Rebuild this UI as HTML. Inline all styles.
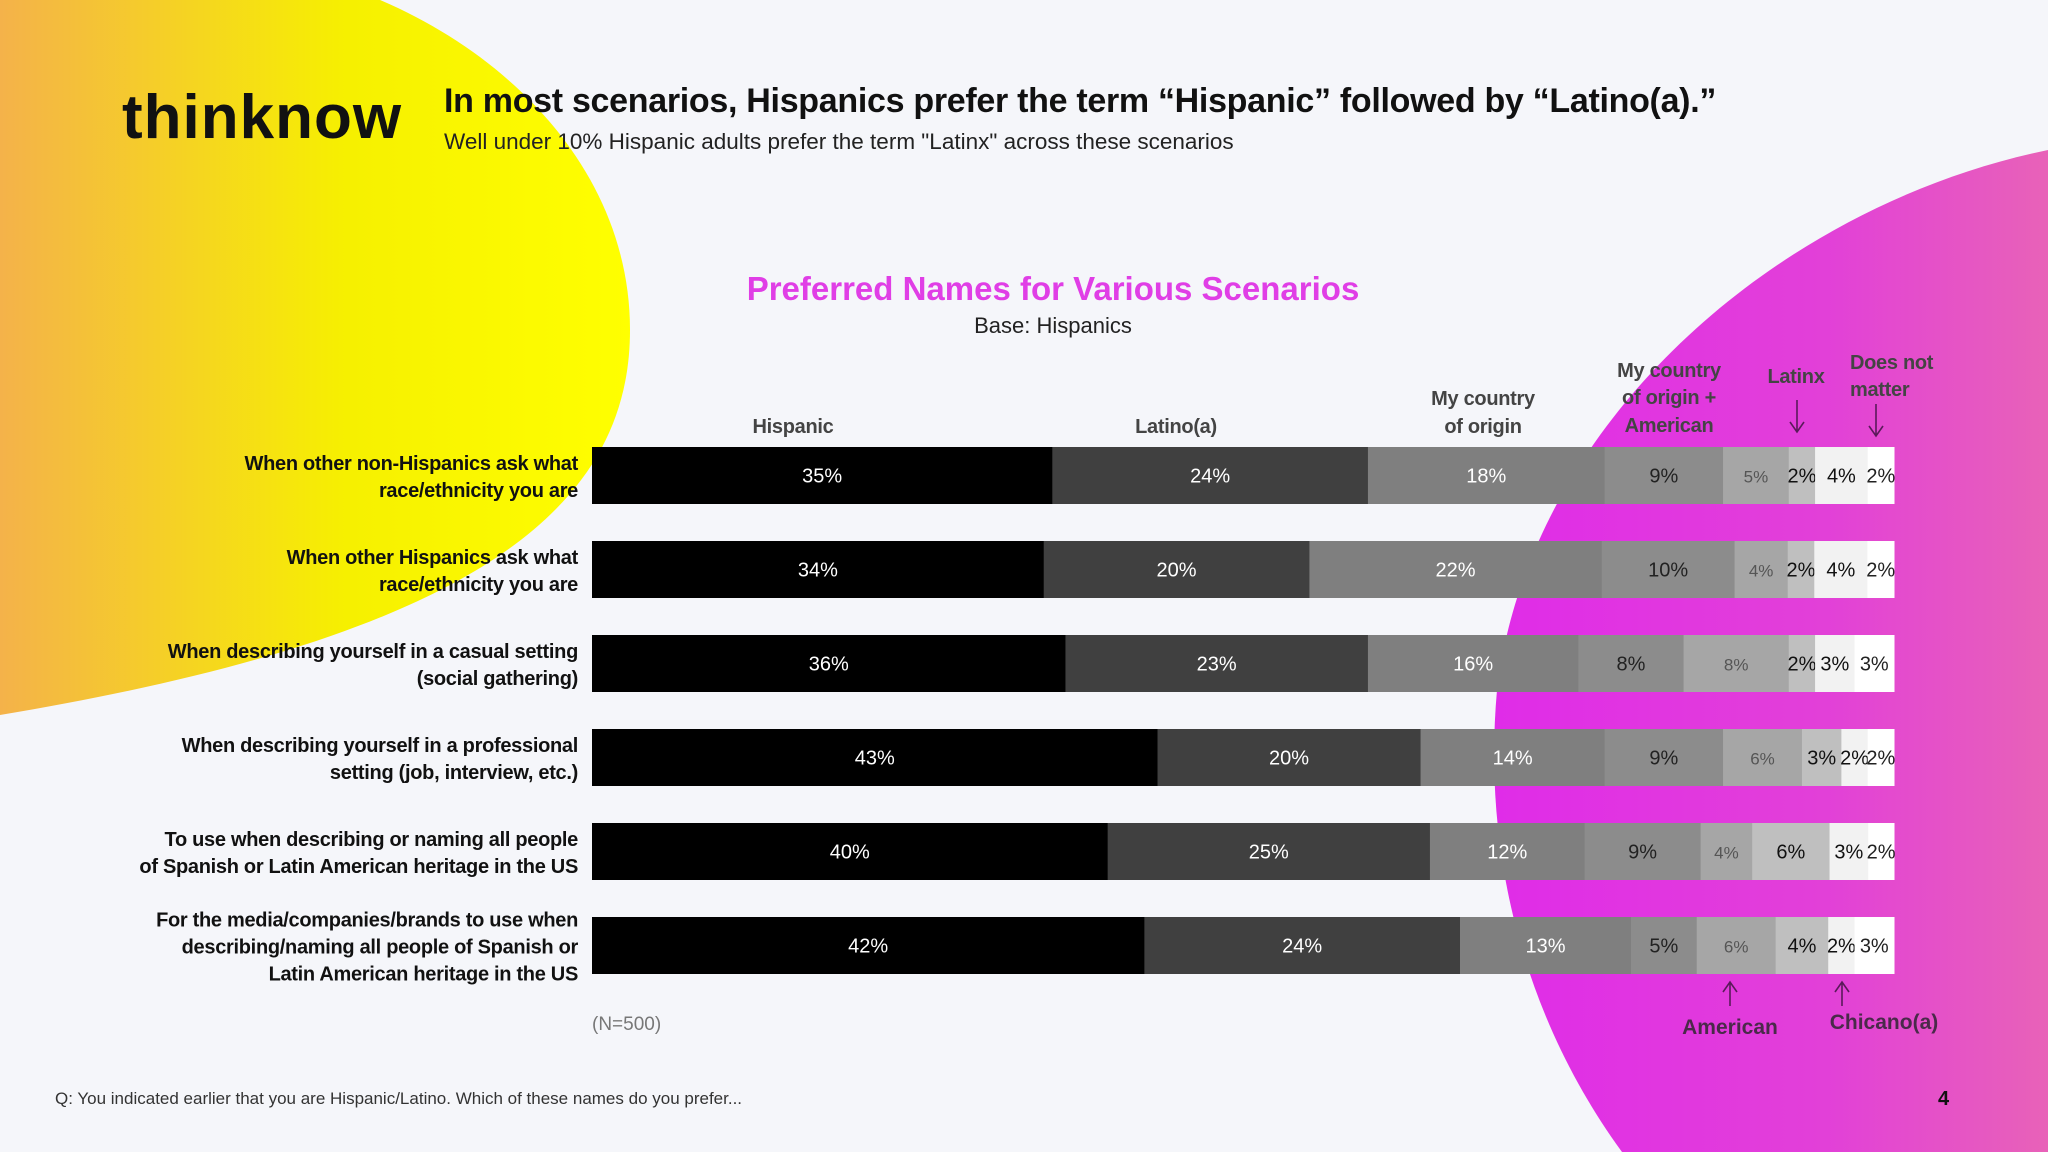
<!DOCTYPE html>
<html><head><meta charset="utf-8"><style>
html,body{margin:0;padding:0;}
body{width:2048px;height:1152px;position:relative;overflow:hidden;background:#f5f6fa;font-family:"Liberation Sans",sans-serif;}
.abs{position:absolute;}
.cal{font-family:"Liberation Sans",sans-serif;}
</style></head><body>
<svg class="abs" style="left:0;top:0" width="2048" height="1152">
<defs>
<linearGradient id="yg" x1="0" x2="1" y1="0" y2="0"><stop offset="0" stop-color="#f4b24a"/><stop offset="0.55" stop-color="#f6f000"/><stop offset="1" stop-color="#ffff00"/></linearGradient>
<linearGradient id="mg" x1="0" x2="1" y1="0" y2="0"><stop offset="0" stop-color="#e02ce8"/><stop offset="0.6" stop-color="#e240d8"/><stop offset="1" stop-color="#e862b8"/></linearGradient>
</defs>
<path d="M0,0 L380,0 C520,60 630,180 630,330 C630,520 450,640 0,715 Z" fill="url(#yg)"/>
<path d="M2048,150 C1780,205 1530,420 1497,690 C1480,880 1540,1040 1622,1152 L2048,1152 Z" fill="url(#mg)"/>
</svg>
<div class="abs" style="left:122px;top:82px;font-size:62px;font-weight:bold;letter-spacing:1px;color:#111;">thinknow</div>
<div class="abs cal" style="left:444px;top:82px;font-size:34px;font-weight:bold;color:#111;letter-spacing:-0.3px;">In most scenarios, Hispanics prefer the term “Hispanic” followed by “Latino(a).”</div>
<div class="abs cal" style="left:444px;top:129px;font-size:22.5px;color:#222;letter-spacing:0px;">Well under 10% Hispanic adults prefer the term "Latinx" across these scenarios</div>
<div class="abs" style="left:0;width:2106px;text-align:center;top:270px;font-size:33px;font-weight:bold;color:#e03ee6;">Preferred Names for Various Scenarios</div>
<div class="abs" style="left:0;width:2106px;text-align:center;top:313px;font-size:22px;color:#222;">Base: Hispanics</div>
<div class="abs cal" style="left:592px;top:1014px;font-size:19px;color:#777;">(N=500)</div>
<div class="abs cal" style="left:55px;top:1089px;font-size:17px;color:#333;">Q: You indicated earlier that you are Hispanic/Latino. Which of these names do you prefer...</div>
<div class="abs" style="left:1938px;top:1088px;font-size:20px;font-weight:bold;color:#111;">4</div>
<svg id="chart" class="abs" style="left:0;top:0" width="2048" height="1152"></svg>
<script>
const categories=["When other non-Hispanics ask what|race/ethnicity you are","When other Hispanics ask what|race/ethnicity you are","When describing yourself in a casual setting|(social gathering)","When describing yourself in a professional|setting (job, interview, etc.)","To use when describing or naming all people|of Spanish or Latin American heritage in the US","For the media/companies/brands to use when|describing/naming all people of Spanish or|Latin American heritage in the US"];
const seriesNames=["Hispanic","Latino(a)","My country of origin","My country of origin + American","American","Latinx","Chicano(a)","Does not matter"];
const hispanic=[35,34,36,43,40,42];
const latino=[24,20,23,20,25,24];
const countryOrigin=[18,22,16,14,12,13];
const countryAmerican=[9,10,8,9,9,5];
const american=[5,4,8,6,4,6];
const latinx=[2,2,2,3,6,4];
const chicano=[4,4,3,2,3,2];
const doesNotMatter=[2,2,3,2,2,3];
const series=[hispanic,latino,countryOrigin,countryAmerican,american,latinx,chicano,doesNotMatter];
const colors=["#000000","#404040","#7f7f7f","#8c8c8c","#a6a6a6","#bfbfbf","#f2f2f2","#ffffff"];
const textColors=["#fff","#fff","#fff","#222","#555","#111","#111","#222"];
const ns="http://www.w3.org/2000/svg";
const svg=document.getElementById('chart');
const x0=592,x1=1894,barH=57,rowTop=447,rowStep=94;
function xScale(v,total){return (x1-x0)*v/total;}
function yRow(i){return rowTop+i*rowStep;}
function mk(tag,attrs){const e=document.createElementNS(ns,tag);for(const k in attrs)e.setAttribute(k,attrs[k]);return e;}
categories.forEach((cat,i)=>{
  const total=series.reduce((s,a)=>s+a[i],0);
  let x=x0;const y=yRow(i);
  const lines=cat.split('|');
  lines.forEach((ln,j)=>{
    const t=mk('text',{x:578,y:y+barH/2+(j-(lines.length-1)/2)*27+8,'text-anchor':'end','font-size':20,'font-weight':'bold',fill:'#111','letter-spacing':'-0.3'});
    
    
    t.textContent=ln;svg.appendChild(t);
  });
  series.forEach((arr,s)=>{
    const w=xScale(arr[i],total);
    const r=mk('rect',{x:x,y:y,width:w+0.5,height:barH,fill:colors[s]});
    
    
    svg.appendChild(r);
    const t=mk('text',{x:x+w/2,y:y+barH/2+7,'text-anchor':'middle','font-size':s===4?17:20,fill:textColors[s]});
    
    
    t.textContent=arr[i]+'%';svg.appendChild(t);
    x+=w;
  });
});
const headers=[["Hispanic",793,[426]],["Latino(a)",1176,[426]],["My country|of origin",1483,[398,426]],["My country|of origin +|American",1669,[370,397,425]],["Latinx",1796,[376]],["Does not|matter",1882,[362,389]]];
headers.forEach(h=>{
  const ls=h[0].split('|');
  ls.forEach((l,j)=>{
    const t=mk('text',{x:h[1],y:h[2][j]+7,'text-anchor':'middle','font-size':20,'font-weight':'bold',fill:'#444','letter-spacing':'-0.3'});
    if(h[0].startsWith('Does'))t.setAttribute('x',1850),t.setAttribute('text-anchor','start');
    
    
    t.textContent=l;svg.appendChild(t);
  });
});
function arrow(x,ya,yb){
  const g=mk('path',{d:`M${x},${ya} L${x},${yb} M${x-7},${yb+(ya<yb?-10:10)} L${x},${yb} L${x+7},${yb+(ya<yb?-10:10)}`,stroke:'#5a1a5a','stroke-width':1.6,fill:'none'});
  
  
  svg.appendChild(g);
}
arrow(1797,400,432);arrow(1876,404,436);arrow(1730,1006,982);arrow(1842,1006,982);
[["American",1730,1034],["Chicano(a)",1884,1029]].forEach(a=>{
  const t=mk('text',{x:a[1],y:a[2],'text-anchor':'middle','font-size':21,'font-weight':'bold',fill:'#4a2a4a'});
  
  
  t.textContent=a[0];svg.appendChild(t);
});
</script>
</body></html>
